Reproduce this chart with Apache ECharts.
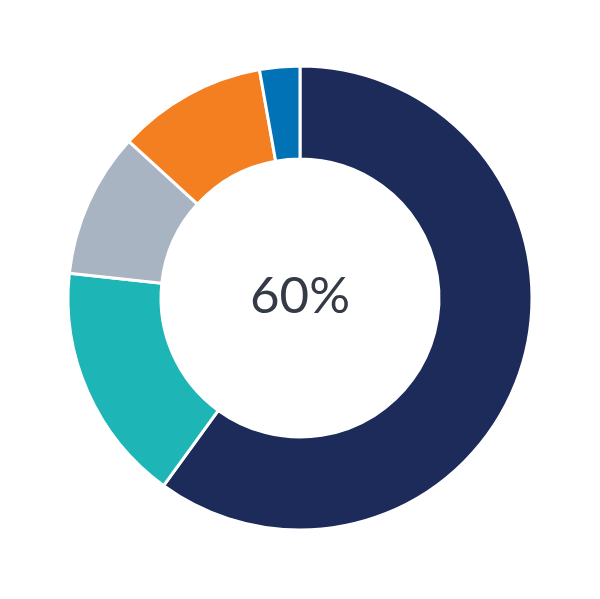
<!DOCTYPE html>
<html><head><meta charset="utf-8">
<script src="https://cdn.jsdelivr.net/npm/echarts@6/dist/echarts.min.js"></script>
<style>html,body{margin:0;padding:0;background:#fff}#c{width:600px;height:599px}</style>
</head><body><div id="c"></div>
<script>
const categories = ['A','B','C','D','E'];
const values = [60, 16.7, 10.1, 10.4, 2.8];
const colors = ['#1c2b5a','#1db5b5','#a9b4c2','#f47f20','#0072b5'];
const centerLabel = '60%';
const chart = echarts.init(document.getElementById('c'));
chart.setOption({
  animation:false,
  graphic:[{type:'text',left:'center',top:271,style:{text:centerLabel,font:'400 51px Lato',fill:'#343a46',textAlign:'center'}}],
  series:[{
    type:'pie',
    center:[300,298],
    radius:[139,232],
    startAngle:90,
    clockwise:true,
    label:{show:false},
    labelLine:{show:false},
    itemStyle:{borderColor:'#fff',borderWidth:3},
    data:categories.map((n,i)=>({name:n,value:values[i],itemStyle:{color:colors[i]}}))
  }]
});
</script></body></html>
